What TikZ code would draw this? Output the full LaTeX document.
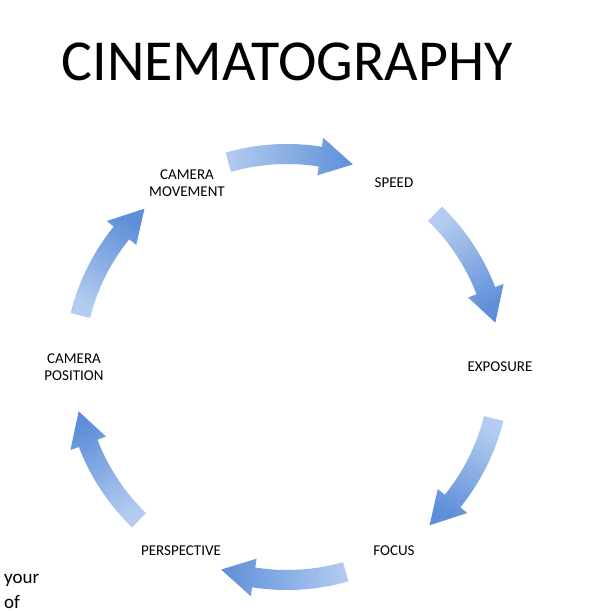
\documentclass[tikz,border=0pt]{standalone}
\usepackage{fontspec}
\setmainfont{Carlito}
\usetikzlibrary{calc}
\definecolor{arlight}{HTML}{B4CCF0}
\definecolor{ardark}{HTML}{5E8FD8}
\begin{document}
\begin{tikzpicture}[x=1pt,y=1pt,
  lbl/.style={align=center,font=\fontsize{15}{17}\selectfont,inner sep=0pt}]
\useasboundingbox (0,0) rectangle (612,610);
\node[font=\fontsize{58}{60}\selectfont,inner sep=0pt] (title) at (287,548) {CINEMATOGRAPHY};
\coordinate (c) at (287,243);
\node[lbl] (mov) at (187,427) {CAMERA\\MOVEMENT};
\node[lbl] (spd) at (394,427) {SPEED};
\node[lbl] (exp) at (500,243) {EXPOSURE};
\node[lbl] (foc) at (394,59) {FOCUS};
\node[lbl] (per) at (181,59) {PERSPECTIVE};
\node[lbl] (pos) at (74,243) {CAMERA\\POSITION};
\node[anchor=west,font=\fontsize{19}{21}\selectfont,inner sep=0pt] (your) at (4,30) {your};
\node[anchor=west,font=\fontsize{19}{21}\selectfont,inner sep=0pt] (of) at (4,8) {of};
\foreach \m in {90,30,-30,-90,-150,150}{
  \pgfmathsetmacro{\s}{\m+16}\pgfmathsetmacro{\n}{\m-9}\pgfmathsetmacro{\t}{\m-18}
  \shade[left color=ardark, right color=arlight, shading angle=\m+180, draw=none]
    ($(c)+(\s:223)$) arc[start angle=\s,end angle=\n,radius=223]
    -- ($(c)+(\n:232)$) -- ($(c)+(\t:213)$) -- ($(c)+(\n:194)$) -- ($(c)+(\n:203)$)
    arc[start angle=\n,end angle=\s,radius=203] -- cycle;
}
\end{tikzpicture}
\end{document}
